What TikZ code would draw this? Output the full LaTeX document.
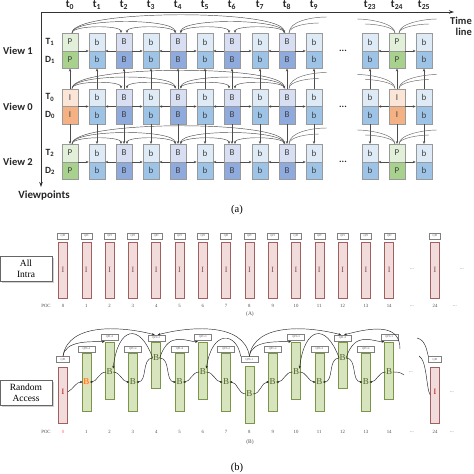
\documentclass[tikz,border=0pt]{standalone}
\usepackage{fontspec}
\setmainfont{Liberation Serif}
\newfontfamily\carl{Carlito}
\usetikzlibrary{arrows.meta,calc,shadows}
\definecolor{cTP}{HTML}{E2F0D9}
\definecolor{cDP}{HTML}{A9D18E}
\definecolor{cTI}{HTML}{FBE5D6}
\definecolor{cDI}{HTML}{F4B183}
\definecolor{cTb}{HTML}{DEEBF7}
\definecolor{cDb}{HTML}{9DC3E6}
\definecolor{cTB}{HTML}{D9DFF2}
\definecolor{cDB}{HTML}{8FAADC}
\definecolor{cGF}{HTML}{D7E4BD}
\definecolor{cGB}{HTML}{7A9648}
\definecolor{cIF}{HTML}{F2DCDB}
\definecolor{cIB}{HTML}{A06060}
\definecolor{cBT}{HTML}{4F6228}
\newcommand\arcA[6]{\draw[aarr] ([xshift=#5]T#1c#2.north) .. controls +(0,#4) and +(0,#4) .. ([xshift=#6]T#1c#3.north);}
\newcommand\lowR[2]{\draw[ra] (rl#1.east) to[out=0,in=180] (rl#2.west);}
\newcommand\lowL[2]{\draw[ra] (rl#1.west) to[out=180,in=0] (rl#2.east);}
\begin{document}
\begin{tikzpicture}[x=1pt,y=1pt,
  abox/.style={draw=black!40, line width=0.5pt, minimum width=16pt, minimum height=17.5pt, inner sep=0pt, font=\carl\fontsize{9}{9}\selectfont, text=black!75},
  aarr/.style={-{Stealth[length=3pt,width=2.4pt]}, draw=black!70, line width=0.45pt},
  aline/.style={draw=black!60, line width=0.45pt},
  axis/.style={-{Stealth[length=5pt,width=3.5pt]}, line width=0.7pt, draw=black!80},
  tlab/.style={font=\carl\bfseries\fontsize{11}{11}\selectfont, text=black!85},
  tlinelab/.style={font=\carl\bfseries\fontsize{10.5}{11}\selectfont, text=black!85, inner sep=0pt},
  vlab/.style={font=\carl\bfseries\fontsize{10.5}{11}\selectfont, text=black!85},
  tdlab/.style={font=\carl\bfseries\fontsize{9.5}{10}\selectfont, text=black!85},
  qbox/.style={draw=black!50, fill=white, line width=0.35pt, minimum width=11pt, minimum height=6pt, inner sep=0pt, font=\fontsize{2.8}{3}\selectfont, text=black!70},
  ibar/.style={draw=cIB, fill=cIF, line width=0.6pt, minimum width=9pt, inner sep=0pt},
  gbar/.style={draw=cGB, fill=cGF, line width=0.6pt, minimum width=9pt, inner sep=0pt},
  poc/.style={font=\fontsize{4.8}{5}\selectfont, text=black!70},
  ra/.style={-{Stealth[length=2.8pt,width=2.2pt]}, line width=0.45pt, draw=black!85},
  raline/.style={line width=0.45pt, draw=black!85},
  blet/.style={font=\fontsize{9}{9}\selectfont, text=cBT, inner sep=0.3pt},
  bletO/.style={font=\fontsize{9}{9}\selectfont, text=orange!80!red, fill=orange!35, inner sep=0.3pt},
  ilet/.style={font=\fontsize{8}{8}\selectfont, text=red!70!black, inner sep=0.5pt},
  lbox/.style={draw=black!60, fill=white, align=center, minimum width=52pt, minimum height=25pt, inner sep=0pt, font=\fontsize{9.5}{11}\selectfont, drop shadow={shadow xshift=1.5pt, shadow yshift=-1.5pt, fill=black!35}},
  captxt/.style={font=\fontsize{10.5}{11}\selectfont},
  scaptxt/.style={font=\fontsize{5.5}{6}\selectfont, text=black!70}
]
\useasboundingbox (0,0) rectangle (474,-474);

% ---------------- part (a) ----------------
\coordinate (o) at (41,-12);
\coordinate (xe) at (454,-12);
\coordinate (ye) at (41,-187);
\draw[axis] (o) -- (xe);
\draw[axis] (o) -- (ye);
\node[tlinelab, anchor=east] (time) at (472,-21) {Time};
\node[tlinelab, anchor=east] (line) at (472,-32) {line};
\node[tlab] (vp) at (44,-196) {Viewpoints};

\foreach \c/\x in {0/70,1/97,2/124,3/151,4/178,5/205,6/232,7/260,8/287,9/314,23/370,24/397,25/424}
  \node[tlab] (tl\c) at (\x,-5) {t\textsubscript{\c}};

\foreach \c/\x/\ta/\tb in {0/70/P/I,1/97/b/b,2/124/B/B,3/151/b/b,4/178/B/B,5/205/b/b,6/232/B/B,7/260/b/b,8/287/B/B,9/314/b/b,23/370/b/b,24/397/P/I,25/424/b/b}{
  \node[abox,fill=cT\ta] (T1c\c) at (\x,-42) {\ta};
  \node[abox,fill=cD\ta] (D1c\c) at (\x,-59.5) {\ta};
  \node[abox,fill=cT\tb] (T0c\c) at (\x,-97.5) {\tb};
  \node[abox,fill=cD\tb] (D0c\c) at (\x,-115) {\tb};
  \node[abox,fill=cT\ta] (T2c\c) at (\x,-153) {\ta};
  \node[abox,fill=cD\ta] (D2c\c) at (\x,-170.5) {\ta};
}

\node[vlab] (v1) at (18,-51) {View 1};
\node[vlab] (v0) at (18,-107) {View 0};
\node[vlab] (v2) at (18,-162) {View 2};
\node[tdlab] (lT1) at (50,-42) {T\textsubscript{1}};
\node[tdlab] (lD1) at (50,-60) {D\textsubscript{1}};
\node[tdlab] (lT0) at (50,-97.5) {T\textsubscript{0}};
\node[tdlab] (lD0) at (50,-115) {D\textsubscript{0}};
\node[tdlab] (lT2) at (50,-153) {T\textsubscript{2}};
\node[tdlab] (lD2) at (50,-171) {D\textsubscript{2}};
\node[tdlab] (dots1) at (343,-51) {...};
\node[tdlab] (dots0) at (343,-107) {...};
\node[tdlab] (dots2) at (343,-162) {...};

% vertical inter-view arrows
\foreach \c in {0,1,2,3,4,5,6,7,8,9,23,24,25}{
  \draw[aarr] (T0c\c.north) -- (D1c\c.south);
  \draw[aarr] (D0c\c.south) -- (T2c\c.north);
}
% horizontal arrows and hierarchical arcs
\foreach \v in {1,0,2}{
  \foreach \s/\d in {0/1,2/3,4/5,6/7,8/9,24/25}
    \draw[aarr] (T\v c\s.south east) -- (T\v c\d.south west);
  \foreach \s/\d in {2/1,4/3,6/5,8/7,24/23}
    \draw[aarr] (T\v c\s.south west) -- (T\v c\d.south east);
  \arcA{\v}{0}{2}{8}{2}{-3}
  \arcA{\v}{4}{2}{8}{-2}{3}
  \arcA{\v}{0}{4}{15}{2}{-3}
  \arcA{\v}{8}{4}{15}{-2}{3}
  \arcA{\v}{4}{6}{8}{2}{-3}
  \arcA{\v}{8}{6}{8}{-2}{3}
  \arcA{\v}{0}{8}{24}{2}{-3}
  \draw[aline] ([xshift=2]T\v c8.north) .. controls +(0,12) and +(-15,0) .. ($(T\v c8.north)+(40,16)$);
  \draw[aline] ([xshift=2]T\v c8.north) .. controls +(0,7) and +(-12,0) .. ($(T\v c8.north)+(32,10)$);
  \draw[aline] ([xshift=-2]T\v c24.north) .. controls +(0,10) and +(12,0) .. ($(T\v c24.north)+(-40,14)$);
  \draw[aline] ([xshift=-2]T\v c24.north) .. controls +(0,6) and +(10,0) .. ($(T\v c24.north)+(-32,9)$);
  \draw[aline] ([xshift=2]T\v c24.north) .. controls +(0,10) and +(-12,0) .. ($(T\v c24.north)+(40,14)$);
  \draw[aline] ([xshift=2]T\v c24.north) .. controls +(0,6) and +(-10,0) .. ($(T\v c24.north)+(32,9)$);
}
\node[captxt] (capa) at (237,-210) {(a)};

% ---------------- part (b): All Intra ----------------
\node[lbox] (allintra) at (26,-268.5) {All\\Intra};
\foreach \i in {0,...,14}{
  \pgfmathsetmacro\xx{63+23.3*\i}
  \node[ibar, minimum height=56] (ab\i) at (\xx,-270) {};
  \node[qbox] (aq\i) at (\xx,-236) {QPI};
  \node[ilet, text=cIB!80!black] (ai\i) at (\xx,-270) {I};
  \node[poc] (ap\i) at (\xx,-306) {\i};
}
\node[ibar, minimum height=56] (ab24) at (435,-270) {};
\node[qbox] (aq24) at (435,-236) {QPI};
\node[ilet, text=cIB!80!black] (ai24) at (435,-270) {I};
\node[poc] (ap24) at (435,-306) {24};
\node[poc] (apl) at (46,-306) {POC};
\node[poc] (apd1) at (412,-306) {...};
\node[poc] (apd2) at (455,-306) {...};
\node[poc] (abd1) at (412,-269) {...};
\node[poc] (abd2) at (462,-269) {...};
\node[scaptxt] (capA) at (250,-314) {(A)};

% ---------------- part (b): Random Access ----------------
\node[lbox] (randacc) at (26,-393) {Random\\Access};
\node[ibar, minimum height=56] (rb0) at (63,-395) {};
\node[qbox, minimum width=13] (rq0) at (63,-359.5) {QPI};
\node[ilet] (rl0) at (63,-392) {I};
\node[gbar, minimum height=58] (rb1) at (86.3,-382) {};
\node[qbox, minimum width=17] (rq1) at (86.3,-349) {QPI+4};
\node[bletO] (rl1) at (86.3,-382) {B};
\foreach \i/\q/\qy/\bt/\bb/\ly in {2/QPI+3/337/342/399/372, 3/QPI+4/349/353/411/382, 4/QPI+2/338/342/388/358, 5/QPI+4/349/353/411/382, 6/QPI+3/337/342/399/372, 7/QPI+4/349/353/411/382, 8/QPI+1/359.5/366/423/394, 9/QPI+4/349/353/411/382, 10/QPI+3/337/342/399/372, 11/QPI+4/349/353/411/382, 12/QPI+2/338/342/388/358, 13/QPI+4/349/353/411/382, 14/QPI+3/337/342/399/372}{
  \pgfmathsetmacro\xx{63+23.3*\i}
  \node[gbar, minimum height=\bb-\bt] (rb\i) at (\xx,-\bt/2-\bb/2) {};
  \node[qbox, minimum width=17] (rq\i) at (\xx,-\qy) {\q};
  \node[blet] (rl\i) at (\xx,-\ly) {B};
}
\node[ibar, minimum height=56] (rb24) at (435,-395) {};
\node[qbox, minimum width=13] (rq24) at (435,-359.5) {QPI};
\node[ilet] (rl24) at (435,-392) {I};
\node[poc] (rd1) at (411,-372) {...};
\node[poc] (rd2) at (452,-392) {...};

% lower-level arrows
\draw[ra] (rb0.east |- rl0.center) to[out=30,in=180] (rl1.west);
\lowL{2}{1} \lowR{2}{3} \lowL{4}{3} \lowR{4}{5} \lowL{6}{5} \lowR{6}{7} \lowL{8}{7}
\lowR{8}{9} \lowL{10}{9} \lowR{10}{11} \lowL{12}{11} \lowR{12}{13} \lowL{14}{13}
% middle arcs
\draw[ra] (rq0.north) .. controls +(2,16) and +(-15,0) .. (rb2.north west);
\draw[ra] (rl4.west) .. controls +(-13,36) and +(5,42) .. (rl2.north east);
\draw[ra] (rl4.east) .. controls +(9,28) and +(-12,0) .. (rb6.north west);
\draw[ra] (rq8.north west) .. controls +(-4,24) and +(6,40) .. (rl6.north east);
\draw[ra] (rq8.north) .. controls +(2,16) and +(-15,0) .. (rb10.north west);
\draw[ra] (rl12.west) .. controls +(-13,36) and +(5,42) .. (rl10.north east);
\draw[ra] (rl12.east) .. controls +(9,28) and +(-12,0) .. (rb14.north west);
% top arcs
\draw[ra] (rq0.north) .. controls +(5,35) and +(-30,8) .. ([xshift=-1.5]rq4.north);
\draw[ra] (rq8.north) .. controls +(-5,35) and +(30,8) .. ([xshift=1.5]rq4.north);
\draw[ra] (rq8.north) .. controls +(5,35) and +(-30,8) .. ([xshift=-1.5]rq12.north);
\coordinate (raR) at (400,-349);
\draw[ra] (raR) .. controls +(0,25) and +(30,8) .. ([xshift=1.5]rq12.north);
% tails
\coordinate (tA) at (417,-338);
\coordinate (tB) at (419,-356);
\coordinate (tC) at (404,-375);
\draw[raline] (tA) .. controls +(8,-2) and +(-2,8) .. (rq24.north west);
\draw[raline] (tB) .. controls +(8,-4) and +(-4,6) .. (rb24.west);
\draw[raline] (rl14.east) .. controls +(5,0) and +(-4,3) .. (tC);

\node[poc] (rpl) at (46,-432) {POC};
\node[poc, text=red!60] (rp0) at (63,-432) {0};
\foreach \i in {1,...,14}{
  \pgfmathsetmacro\xx{63+23.3*\i}
  \node[poc] (rp\i) at (\xx,-432) {\i};
}
\node[poc] (rpd1) at (412,-432) {...};
\node[poc] (rp24) at (435,-432) {24};
\node[poc] (rpd2) at (452,-432) {...};
\node[scaptxt] (capB) at (250,-442) {(B)};
\node[captxt] (capb) at (237,-468) {(b)};
\end{tikzpicture}
\end{document}
